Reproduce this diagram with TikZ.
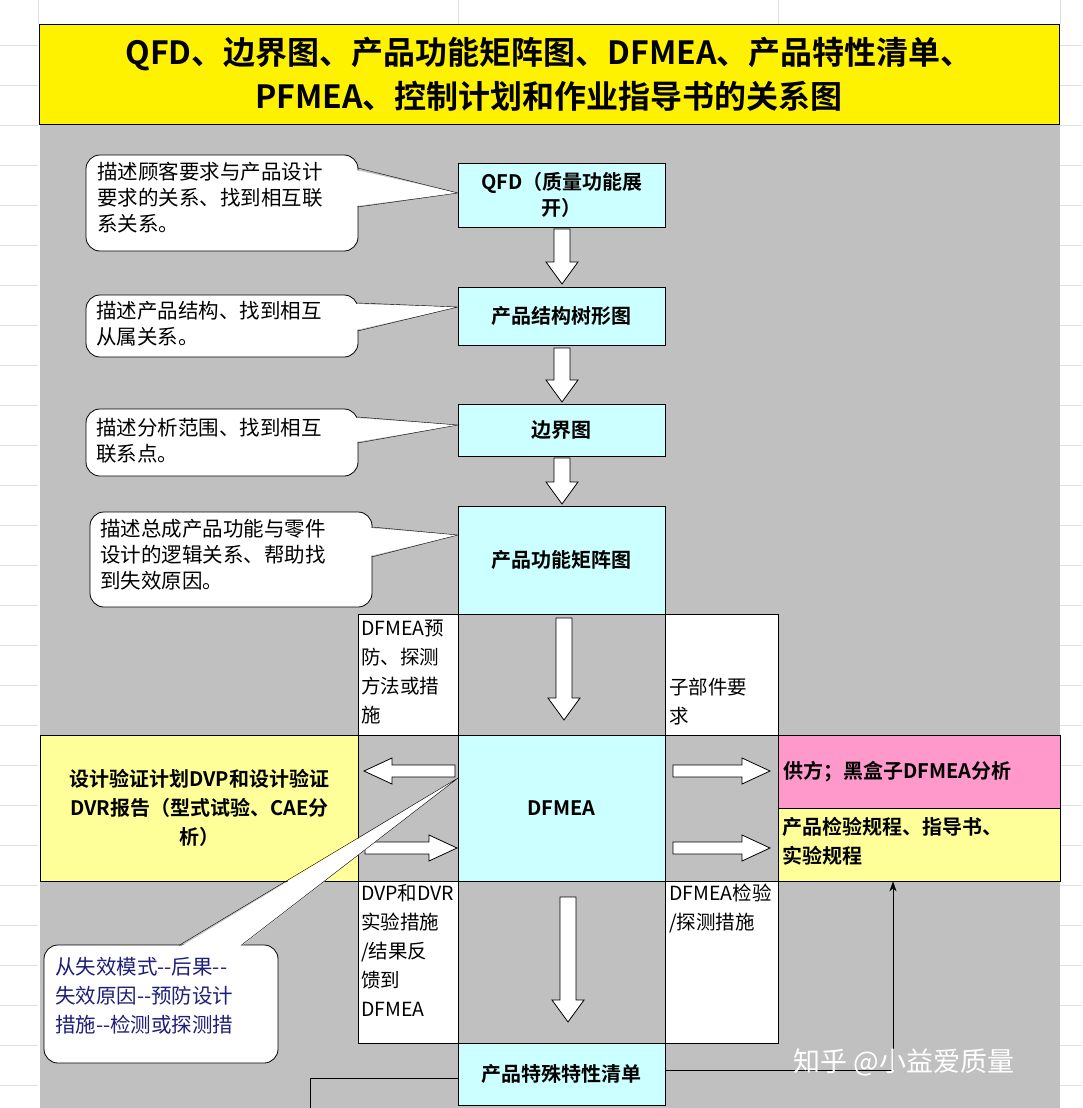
\documentclass[tikz,border=0pt]{standalone}
\usepackage{fontspec}
\setmainfont{Noto Sans CJK SC}
\newfontfamily\cjkb{Noto Sans CJK SC Bold}
\usetikzlibrary{arrows.meta}
\definecolor{cy}{HTML}{CCFFFF}
\definecolor{ly}{HTML}{FFFF99}
\definecolor{pk}{HTML}{FF99CC}
\definecolor{gb}{HTML}{C0C0C0}
\definecolor{db}{HTML}{1F1F7A}
\tikzset{
 cbox/.style={draw=black,fill=cy,inner sep=2pt,font=\cjkb\fontsize{20}{26}\selectfont,align=center},
 wcell/.style={draw=black,fill=white},
 ctext/.style={anchor=north west,align=left,font=\fontsize{20.5}{26}\selectfont,inner sep=0pt},
 celltext/.style={anchor=north west,align=left,font=\fontsize{19.5}{29}\selectfont,inner sep=0pt},
 callout/.style={draw=black,fill=white,rounded corners=14pt,line width=0.8pt},
 barrow/.style={draw=black,fill=white,line width=0.8pt},
}
\newcommand{\downarr}[3]{% x, ytop, ybot
 \draw[barrow] (#1-8,#2) -- (#1+8,#2) -- (#1+8,#3-22) -- (#1+16,#3-22) -- (#1,#3) -- (#1-16,#3-22) -- (#1-8,#3-22) -- cycle;}
\newcommand{\rightarr}[3]{% y, xleft, xright
 \draw[barrow] (#2,#1-6) -- (#3-28,#1-6) -- (#3-28,#1-13) -- (#3,#1) -- (#3-28,#1+13) -- (#3-28,#1+6) -- (#2,#1+6) -- cycle;}
\newcommand{\leftarr}[3]{% y, xleft(tip), xright
 \draw[barrow] (#3,#1-6) -- (#2+28,#1-6) -- (#2+28,#1-13) -- (#2,#1) -- (#2+28,#1+13) -- (#2+28,#1+6) -- (#3,#1+6) -- cycle;}
\begin{document}
\begin{tikzpicture}[x=1pt,y=-1pt]
\useasboundingbox (0,0) rectangle (1082,1108);
\fill[white] (0,0) rectangle (1082,1108);
% spreadsheet grid
\foreach \x in {38,458,778,1060} \draw[gray!25] (\x,0) -- (\x,24);
\foreach \y in {45,85,125,165,205,245,285,325,365,405,445,485,525,565,605,645,685,725,765,805,845,885,925,965,1005,1045,1085}
 {\draw[gray!25] (0,\y) -- (38,\y); \draw[gray!25] (1060,\y) -- (1082,\y);}
% title
\node[draw=black,fill=yellow,minimum width=1020pt,minimum height=100pt,anchor=north west,inner sep=0pt,align=center,font=\cjkb\fontsize{32}{44}\selectfont] (title) at (39,24)
 {QFD、边界图、产品功能矩阵图、DFMEA、产品特性清单、\\PFMEA、控制计划和作业指导书的关系图};
\fill[gb] (40,125) rectangle (1060,1108);
% cells
\draw[wcell] (358,614) rectangle (458,735);
\draw[wcell] (665,614) rectangle (778,735);
\draw[wcell] (358,881) rectangle (458,1043);
\draw[wcell] (665,881) rectangle (778,1043);
\node[celltext] (t1) at (361,620) {DFMEA预\\防、探测\\方法或措\\施};
\node[celltext] (t2) at (669,678) {子部件要\\求};
\node[celltext] (t3) at (361,884) {DVP和DVR\\实验措施\\/结果反\\馈到\\DFMEA};
\node[celltext] (t4) at (669,884) {DFMEA检验\\/探测措施};
% side boxes
\node[draw=black,fill=ly,minimum width=318pt,minimum height=146pt,anchor=north west,inner sep=0pt,align=center,font=\cjkb\fontsize{20}{29}\selectfont] (dvp) at (40,735) {设计验证计划DVP和设计验证\\DVR报告（型式试验、CAE分\\析）};
\node[draw=black,fill=pk,minimum width=282pt,minimum height=73pt,anchor=north west,inner sep=0pt] (sup) at (778,735) {};
\node[anchor=west,font=\cjkb\fontsize{20}{24}\selectfont] (supt) at (780,772) {供方；黑盒子DFMEA分析};
\node[draw=black,fill=ly,minimum width=282pt,minimum height=73pt,anchor=north west,inner sep=0pt] (insp) at (778,808) {};
\node[anchor=north west,align=left,inner sep=0pt,font=\cjkb\fontsize{20}{29}\selectfont] (inspt) at (782,817) {产品检验规程、指导书、\\实验规程};
% cyan boxes
\node[cbox,minimum width=207pt,minimum height=64pt,anchor=north west] (qfd) at (458,163) {QFD（质量功能展\\开）};
\node[cbox,minimum width=207pt,minimum height=58pt,anchor=north west] (tree) at (458,287) {产品结构树形图};
\node[cbox,minimum width=207pt,minimum height=52pt,anchor=north west] (bound) at (458,404) {边界图};
\node[cbox,minimum width=207pt,minimum height=108pt,anchor=north west] (matrix) at (458,506) {产品功能矩阵图};
\node[cbox,minimum width=207pt,minimum height=146pt,anchor=north west] (dfmea) at (458,735) {DFMEA};
\node[cbox,minimum width=207pt,minimum height=62pt,anchor=north west] (spec) at (458,1043) {产品特殊特性清单};
% block arrows
\downarr{562}{229}{284}
\downarr{562}{348}{402}
\downarr{562}{458}{504}
\downarr{564}{618}{720}
\downarr{568}{897}{1022}
\leftarr{771}{364}{455}
\rightarr{848}{365}{457}
\rightarr{771}{673}{770}
\rightarr{848}{673}{770}
% connector lines
\coordinate (c1) at (893,1070);
\coordinate (c2) at (310,1078);
\coordinate (c3) at (310,1108);
\draw (spec.east |- c1) -- (c1);
\draw[-{Stealth[length=10pt,width=7pt]}] (c1) -- (insp.south -| c1);
\draw (spec.west |- c2) -- (c2) -- (c3);
% callouts
\draw[callout] (86,155) rectangle (358,251);
\fill[white] (356,170) -- (458,193) -- (356,206) -- cycle;
\draw (357.6,168) -- (458,193) -- (357.6,207);
\node[ctext] (k1) at (97,162) {描述顾客要求与产品设计\\要求的关系、找到相互联\\系关系。};
\draw[callout] (86,295) rectangle (358,357);
\fill[white] (356,304) -- (458,307) -- (356,330) -- cycle;
\draw (357.6,303) -- (458,307) -- (357.6,331);
\node[ctext] (k2) at (96,301) {描述产品结构、找到相互\\从属关系。};
\draw[callout] (86,409) rectangle (358,476);
\fill[white] (356,418) -- (458,425) -- (356,442) -- cycle;
\draw (357.6,417) -- (458,425) -- (357.6,443);
\node[ctext] (k3) at (96,418) {描述分析范围、找到相互\\联系点。};
\draw[callout] (90,512) rectangle (372,607);
\fill[white] (370,528) -- (458,535) -- (370,556) -- cycle;
\draw (371.6,527) -- (458,535) -- (371.6,557);
\node[ctext] (k4) at (100,519) {描述总成产品功能与零件\\设计的逻辑关系、帮助找\\到失效原因。};
\draw[callout] (44,945) rectangle (278,1063);
\fill[white] (180,947) -- (458,778) -- (240,947) -- cycle;
\draw (179,945.4) -- (458,778) -- (241,945.4);
\node[ctext,text=db,font=\fontsize{20.5}{29}\selectfont] (k5) at (55,957) {从失效模式{-}{-}后果{-}{-}\\失效原因{-}{-}预防设计\\措施{-}{-}检测或探测措};
% watermark
\node[anchor=west,text=white,font=\fontsize{27}{30}\selectfont] (wm) at (790,1062) {知乎 @小益爱质量};
\end{tikzpicture}
\end{document}
